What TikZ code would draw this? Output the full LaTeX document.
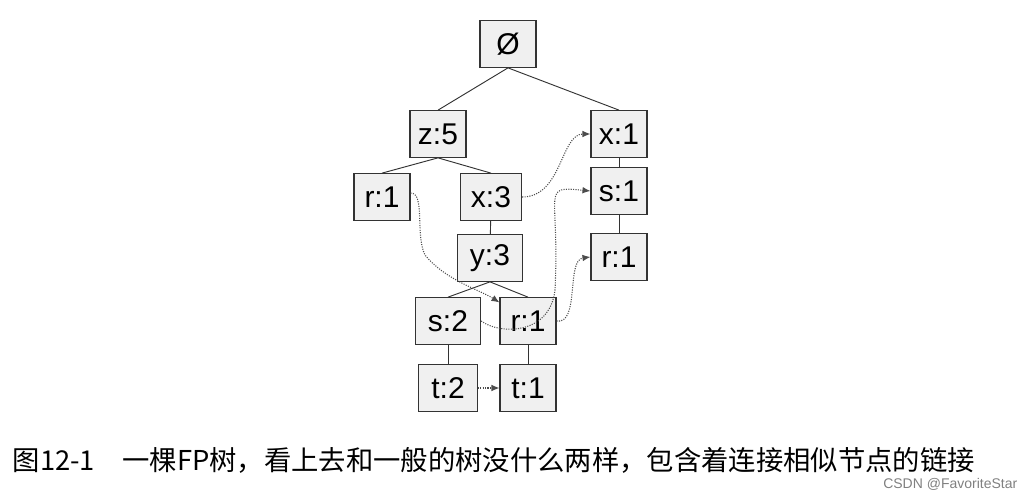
\documentclass[tikz,border=0pt]{standalone}
\usepackage{fontspec}
\setmainfont{Liberation Sans}
\newfontfamily\cjk{Noto Sans CJK SC}
\usetikzlibrary{arrows.meta}
\begin{document}
\begin{tikzpicture}[x=0.75pt,y=-0.75pt,
  bx/.style={draw=black!80,fill=black!6,line width=0.8pt,minimum width=42pt,minimum height=35pt,inner sep=0pt,font=\fontsize{22.5}{22.5}\selectfont},
  tr/.style={draw=black!80,line width=0.7pt},
  lk/.style={draw=black!70,densely dotted,line width=0.8pt,-{Latex[length=6pt,width=5pt]}}]
\useasboundingbox (0,0) rectangle (1031,495);
\node[bx] (root) at (508,44) {Ø};
\node[bx] (z5) at (438,134) {z:5};
\node[bx] (x1) at (619,134) {x:1};
\node[bx] (r1a) at (382,197) {r:1};
\node[bx,minimum width=46pt] (x3) at (491,197) {x:3};
\node[bx] (s1) at (619,191) {s:1};
\node[bx,minimum width=49pt] (y3) at (490,258) {y:3};
\node[bx] (r1c) at (619,257) {r:1};
\node[bx,minimum width=49pt] (s2) at (448,321) {s:2};
\node[bx] (r1b) at (528,321) {r:1};
\node[bx,minimum width=44pt] (t2) at (448,388) {t:2};
\node[bx] (t1) at (528,388) {t:1};
\draw[tr] (root.south) -- (z5.north);
\draw[tr] (root.south) -- (x1.north);
\draw[tr] (z5.south) -- (r1a.north);
\draw[tr] (z5.south) -- (x3.north);
\draw[tr] (x3) -- (y3);
\draw[tr] (y3.south) -- (s2.north);
\draw[tr] (y3.south) -- (r1b.north);
\draw[tr] (s2) -- (t2);
\draw[tr] (r1b) -- (t1);
\draw[tr] (x1) -- (s1);
\draw[tr] (s1) -- (r1c);
\coordinate (m1) at (425,255);
\draw[lk] (r1a.east) ++(0,-4) .. controls +(15,0) and (415,235) .. (m1) .. controls (445,280) and (480,290) .. ([yshift=-4pt]r1b.north west);
\draw[lk] (x3.east) .. controls +(40,0) and +(-30,0) .. (x1.west);
\coordinate (m2) at (555,290);
\draw[lk] (s2.east) .. controls (500,335) and (550,335) .. (m2) .. controls (560,190) and (540,186) .. (s1.west);
\draw[lk] (r1b.east) .. controls (580,325) and (566,260) .. (r1c.west);
\draw[lk] (t2.east) -- (t1.west);
\node[font=\cjk\fontsize{20.5}{20.5}\selectfont,anchor=west] (cap) at (8,460) {图12-1\quad 一棵FP树，看上去和一般的树没什么两样，包含着连接相似节点的链接};
\node[font=\fontsize{10.5}{10.5}\selectfont,text=black!50,anchor=east] (wm) at (1022,484) {CSDN @FavoriteStar};
\end{tikzpicture}
\end{document}
